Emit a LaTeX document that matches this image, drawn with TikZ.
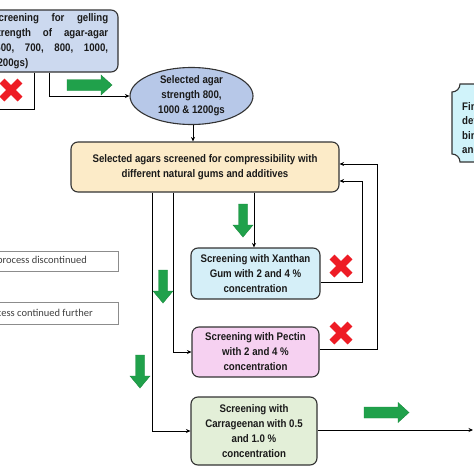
\documentclass[tikz,border=0pt]{standalone}
\usepackage{fontspec}
\setmainfont{Liberation Sans}
\newfontfamily\boxfont{Liberation Sans}[FakeStretch=0.88]
\newfontfamily\legfont{Carlito}
\usetikzlibrary{arrows.meta,shapes.geometric,calc}
\definecolor{boxline}{HTML}{333333}
\definecolor{txt}{HTML}{1A1A1A}
\definecolor{b1fill}{HTML}{CCD9EF}
\definecolor{ellfill}{HTML}{B7C8E8}
\definecolor{bigfill}{HTML}{FCEBC8}
\definecolor{xanfill}{HTML}{D5EFF8}
\definecolor{pecfill}{HTML}{F6D1F1}
\definecolor{carfill}{HTML}{E3EFD8}
\definecolor{finfill}{HTML}{D0F3FA}
\definecolor{gfill}{HTML}{20A14B}
\definecolor{gline}{HTML}{178A3C}
\definecolor{xred}{HTML}{EE1C25}
\definecolor{legline}{HTML}{8C8C8C}
\definecolor{legtxt}{HTML}{404040}
\tikzset{
  box/.style={draw=boxline, line width=1.1pt, rounded corners=7pt, text=txt,
    font=\boxfont\bfseries\fontsize{11}{14.5}\selectfont, align=center, inner sep=0pt},
  conn/.style={draw=black, line width=0.9pt},
  arr/.style={conn, -{Stealth[length=4.5pt,width=4pt]}},
  legbox/.style={draw=legline, line width=1pt, fill=white, inner sep=0pt},
  legtext/.style={font=\legfont\fontsize{10.5}{12}\selectfont, text=legtxt, inner sep=0pt},
  garrowR/.pic={\filldraw[fill=gfill, draw=gline, line width=0.4pt]
    (0,-5.5) -- (34,-5.5) -- (34,-10) -- (45,0) -- (34,10) -- (34,5.5) -- (0,5.5) -- cycle;},
  garrowD/.pic={\filldraw[fill=gfill, draw=gline, line width=0.4pt]
    (-4.5,0) -- (-4.5,21) -- (-10,21) -- (0,33) -- (10,21) -- (4.5,21) -- (4.5,0) -- cycle;},
  redx/.pic={\draw[xred, line width=7pt] (-9,-9) -- (9,9) (-9,9) -- (9,-9);}
}
\begin{document}
\begin{tikzpicture}[x=1pt,y=-1pt]
\useasboundingbox (0,0) rectangle (474,474);
\clip (0,0) rectangle (474,474);
\fill[white] (0,0) rectangle (474,474);

% top-left box
\node[box, fill=b1fill, minimum width=133pt, minimum height=62pt] (b1) at (51.5,41) {};
\node[font=\boxfont\bfseries\fontsize{11}{15}\selectfont, text=txt, align=left, inner sep=0pt, anchor=west] (b1t) at (-8,41.5)
  {\makebox[116pt][s]{Screening for gelling}\\\makebox[116pt][s]{strength of agar-agar}\\\makebox[116pt][s]{(600, 700, 800, 1000,}\\1200gs)};

% ellipse
\node[ellipse, draw=boxline, line width=1.1pt, fill=ellfill, minimum width=123pt, minimum height=52pt,
  inner sep=0pt, text=txt, align=center, font=\boxfont\bfseries\fontsize{11}{15}\selectfont] (ell) at (191.5,96)
  {Selected agar\\strength 800,\\1000 \& 1200gs};

% big box
\node[box, fill=bigfill, minimum width=268pt, minimum height=50pt] (big) at (205,167)
  {Selected agars screened for compressibility with\\different natural gums and additives};

% screening boxes
\node[box, fill=xanfill, minimum width=129pt, minimum height=51pt, font=\boxfont\bfseries\fontsize{11}{15}\selectfont] (xan) at (255.5,273.5)
  {Screening with Xanthan\\Gum with 2 and 4 \%\\concentration};
\node[box, fill=pecfill, minimum width=127pt, minimum height=50pt, font=\boxfont\bfseries\fontsize{11}{15}\selectfont] (pec) at (255.5,352)
  {Screening with Pectin\\with 2 and 4 \%\\concentration};
\node[box, fill=carfill, minimum width=126pt, minimum height=68pt, font=\boxfont\bfseries\fontsize{11}{15}\selectfont] (car) at (254,431)
  {Screening with\\Carrageenan with 0.5\\and 1.0 \%\\concentration};

% right plaque box (cut off)
\filldraw[fill=finfill, draw=boxline, line width=1.1pt]
  (460,84) -- (490,84) -- (490,162) -- (460,162)
  .. controls (460,157.6) and (456.4,154) .. (452,154) -- (452,92)
  .. controls (456.4,92) and (460,88.4) .. (460,84) -- cycle;
\node[font=\boxfont\bfseries\fontsize{11}{14.5}\selectfont, text=txt, align=left, inner sep=0pt, anchor=west] (fin) at (462,128)
  {Final\\developed\\binders\\and};

% legend
\node[legbox, minimum width=160pt, minimum height=20pt] (leg1) at (38,261) {};
\node[legtext, anchor=east] (leg1t) at (87,261) {Further process discontinued};
\node[legbox, minimum width=160pt, minimum height=22pt] (leg2) at (38,313) {};
\node[legtext, anchor=east] (leg2t) at (93,313) {Process continued further};

% connectors
\coordinate (stop1) at (-10,109);
\coordinate (endc) at (473,430);
\draw[conn] ([xshift=-17.5pt]b1.south) |- (stop1);
\draw[arr] ([xshift=-2.5pt]b1.south) |- (ell.west);
\draw[arr] ([xshift=1.5pt]ell.south) -- ([xshift=1.5pt]ell.south |- big.north);
\draw[arr] ([xshift=49pt]big.south) -- ([xshift=49pt]big.south |- xan.north);
\draw[arr] ([xshift=-32pt]big.south) |- (pec.west);
\draw[arr] ([xshift=-53pt]big.south) |- (car.west);
\draw[arr] ([yshift=-8.5pt]xan.east) -- ++(42,0) |- ([yshift=-14pt]big.east);
\draw[arr] ([yshift=3pt]pec.east) -- ++(58,0) |- ([yshift=3pt]big.east);
\draw[arr] (car.east |- endc) -- (endc);

% green arrows
\pic at (67,85) {garrowR};
\pic at (364,412.5) {garrowR};
\pic at (243,204) {garrowD};
\pic at (163,270) {garrowD};
\pic at (140,355) {garrowD};

% red crosses
\pic at (11,90) {redx};
\pic at (341,266) {redx};
\pic at (341,333) {redx};
\end{tikzpicture}
\end{document}
